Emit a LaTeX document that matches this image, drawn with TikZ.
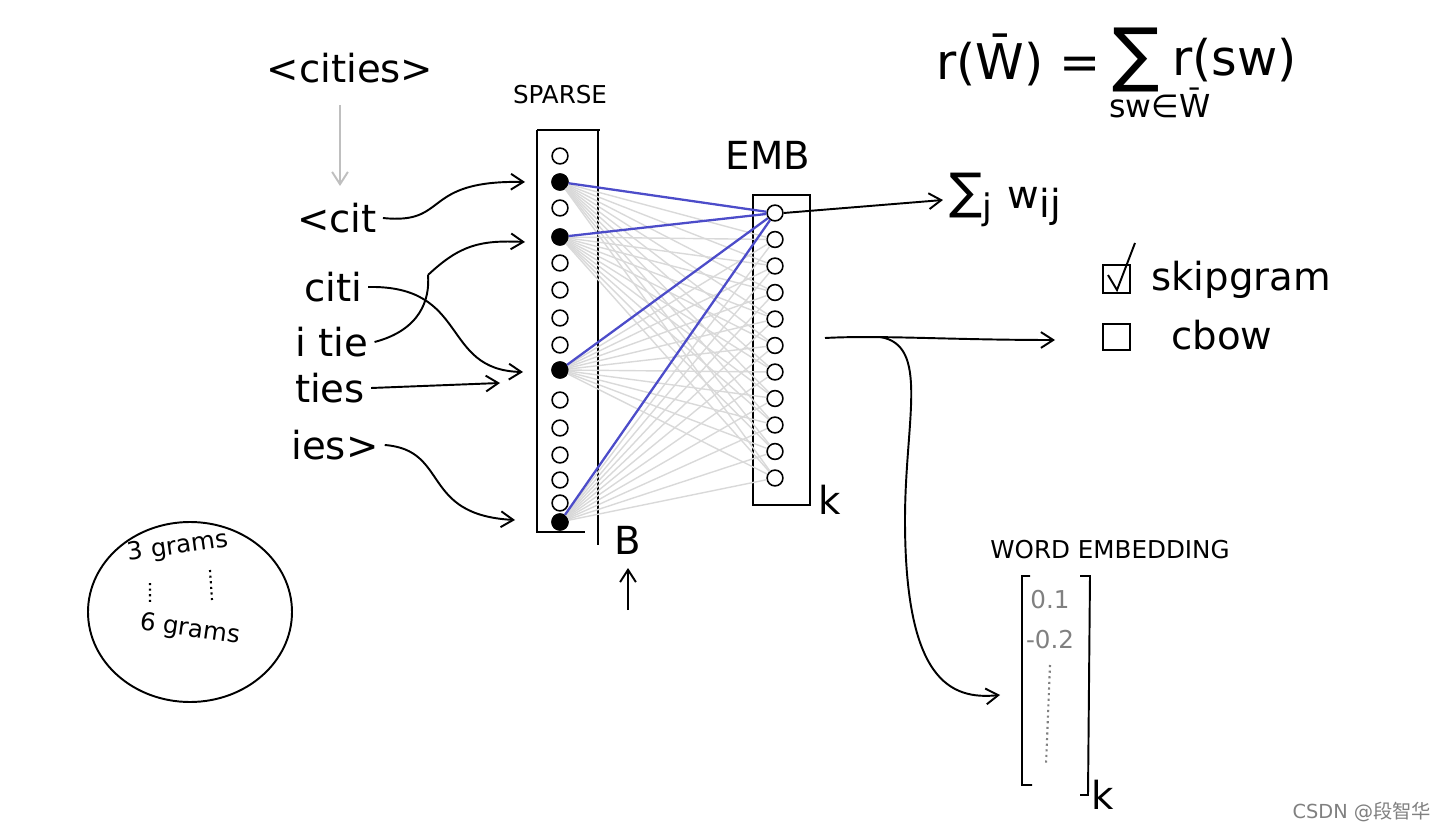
\documentclass[tikz,border=0pt]{standalone}
\usepackage{fontspec}
\setmainfont{DejaVu Sans}
\newfontfamily\cjk{Noto Sans CJK SC}
\usetikzlibrary{arrows.meta}
\begin{document}
\begin{tikzpicture}[x=0.02cm,y=-0.02cm,
  ln/.style={line width=1.1pt,black},
  arr/.style={ln,-{Straight Barb[length=7pt,width=9pt]}},
  lab/.style={font=\fontsize{22}{24}\selectfont},
  big/.style={font=\fontsize{28}{30}\selectfont},
  small/.style={font=\fontsize{14}{16}\selectfont},
  dot/.style={circle,draw,line width=0.9pt,inner sep=0pt,minimum size=9pt},
  fdot/.style={dot,fill=black},
  gl/.style={gray!30,line width=0.8pt},
  bl/.style={blue!70!black!70!white,line width=1.3pt}]
\useasboundingbox (0,0) rectangle (1445,831);
% left labels
\node[lab] (cities) at (350,68) {<cities>};
\coordinate (cd1) at (340,105); \coordinate (cd2) at (340,186);
\draw[arr,gray!50] (cd1) -- (cd2);
\node[lab] (l1) at (337,218) {<cit};
\node[lab] (l2) at (333,287) {citi};
\node[lab] (l3) at (332,342) {i tie};
\node[lab] (l4) at (330,388) {ties};
\node[lab] (l5) at (335,445) {ies>};
% sparse
\node[small] (sp) at (560,95) {SPARSE};
\draw[ln] (537,130) -- (600,130) (537,130) -- (537,532) -- (585,532) (598,130) -- (598,545);
\foreach \y/\n in {156/1,182/2,208/3,237/4,263/5,290/6,318/7,345/8,370/9,400/10,428/11,455/12,480/13,503/14,522/15}
  \node[dot] (s\n) at (560,\y) {};
\foreach \n in {2,4,9,15} \node[fdot] at (s\n) {};
% emb
\node[lab] (emb) at (768,155) {EMB};
\draw[ln] (753,195) rectangle (810,505);
\foreach \n in {1,...,11} \node[dot] (e\n) at (775,{213+26.5*(\n-1)}) {};
\foreach \s in {2,4,9,15} \foreach \e in {2,...,11} \draw[gl] (s\s) -- (e\e);
\foreach \s in {2,4,9,15} \draw[bl] (s\s) -- (e1);
\node[lab] (kk) at (830,500) {k};
\node[lab] (B) at (628,540) {B};
\coordinate (bu1) at (628,610); \coordinate (bu2) at (628,568);
\draw[arr] (bu1) -- (bu2);
% connectors from labels
\draw[arr] (l1.east) .. controls (450,225) and (420,180) .. (525,182);
\coordinate (cj) at (428,275);
\draw[arr] (cj) .. controls (460,245) and (480,240) .. (525,242);
\draw[ln] (l3.east) .. controls (420,330) and (430,300) .. (cj);
\draw[arr] (l2.east) .. controls (470,285) and (440,370) .. (523,372);
\draw[arr] (l4.east) -- (500,383);
\draw[arr] (l5.east) .. controls (450,450) and (420,515) .. (515,520);
% sum wij
\node[big] (sum) at (1005,200) {∑\raisebox{-6pt}{\fontsize{20}{20}\selectfont j} {\fontsize{22}{22}\selectfont w\raisebox{-5pt}{ij}}};
\draw[arr] (e1.east) -- (sum.west);
\node[big,anchor=west] (r1) at (930,60) {r(W̄) = };
\node[big,anchor=west,font=\fontsize{40}{40}\selectfont] (sig) at (r1.east) {∑};
\node[big,anchor=west] (r2) at (sig.east) {r(sw)};
\node[font=\fontsize{18}{20}\selectfont] (sub) at (1160,103) {sw∈W̄};
% checkboxes
\draw[ln] (1103,265) rectangle (1130,293);
\draw[ln] (1108,275) -- (1117,290) -- (1135,243);
\node[lab,anchor=west] (sg) at (1145,280) {skipgram};
\draw[ln] (1103,324) rectangle (1130,350);
\node[lab,anchor=west] (cb) at (1165,335) {cbow};
\coordinate (a0) at (825,338); \coordinate (a1) at (1055,340);
\draw[arr] (a0) .. controls (880,335) and (950,340) .. (a1);
\coordinate (a2) at (1000,695);
\draw[arr] (880,337) .. controls (930,345) and (905,420) .. (905,520) .. controls (905,680) and (950,700) .. (a2);
% word embedding
\node[small] (we) at (1110,550) {WORD EMBEDDING};
\draw[ln] (1030,576) -- (1022,576) -- (1022,785) -- (1032,785) (1080,576) -- (1090,576) -- (1088,795) -- (1080,795);
\node[small,gray] (v1) at (1050,600) {0.1};
\node[small,gray] (v2) at (1050,640) {-0.2};
\draw[gray,dotted,line width=1.2pt] (1050,665) -- (1046,765);
\node[lab] (k2) at (1103,795) {k};
% grams circle
\draw[ln] (190,612) ellipse (102 and 90);
\node[small,rotate=8] (g3) at (178,547) {3 grams};
\node[small,rotate=-8] (g6) at (190,630) {6 grams};
\draw[dotted,line width=1.2pt] (150,583) -- (150,605) (210,570) -- (212,600);
\node[gray,font=\fontsize{11}{12}\selectfont] (wm) at (1362,812) {CSDN @{\cjk 段智华}};
\end{tikzpicture}
\end{document}
